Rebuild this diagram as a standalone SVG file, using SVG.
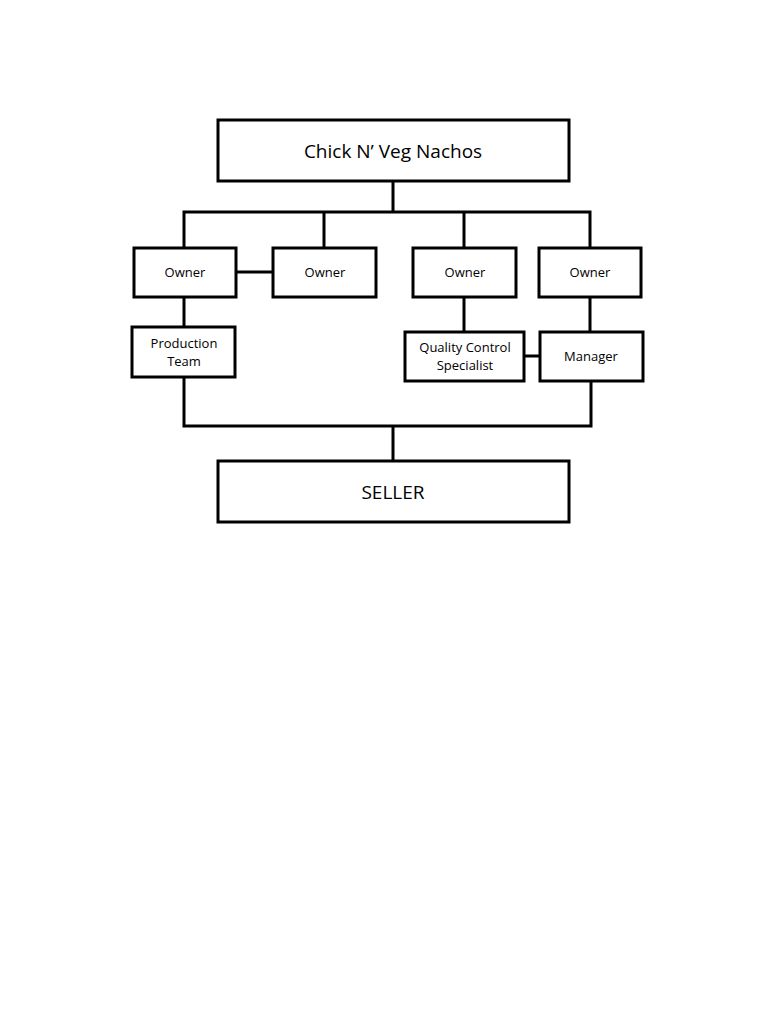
<svg xmlns="http://www.w3.org/2000/svg" width="768" height="1024" viewBox="0 0 768 1024">
<style>
rect{fill:#fff;stroke:#000;stroke-width:3}
.c path{fill:none;stroke:#000;stroke-width:3}
text{font-family:"Open Sans","Liberation Sans",sans-serif;text-anchor:middle;fill:#000}
.s{font-size:13px}
.b{font-size:19px}
</style>
<rect x="0" y="0" width="768" height="1024" style="stroke:none"/>
<g class="c">
<path d="M393 181V212M184 248V212H590V248M324 212V248M464 212V248M236 272H273M184 297V327M464 297V332M590 297V332M524 356H540M184 377V426H591V381M393 426V461"/>
</g>
<g id="top"><rect x="218" y="120" width="351" height="61"/><text class="b" x="393" y="158">Chick N’ Veg Nachos</text></g>
<g id="o1"><rect x="134" y="248" width="102" height="49"/><text class="s" x="185" y="277">Owner</text></g>
<g id="o2"><rect x="273" y="248" width="103" height="49"/><text class="s" x="325" y="277">Owner</text></g>
<g id="o3"><rect x="413" y="248" width="103" height="49"/><text class="s" x="465" y="277">Owner</text></g>
<g id="o4"><rect x="539" y="248" width="102" height="49"/><text class="s" x="590" y="277">Owner</text></g>
<g id="pt"><rect x="132" y="327" width="103" height="50"/><text class="s" x="184" y="348">Production</text><text class="s" x="184" y="366">Team</text></g>
<g id="qcs"><rect x="405" y="332" width="119" height="49"/><text class="s" x="465" y="352">Quality Control</text><text class="s" x="465" y="370">Specialist</text></g>
<g id="mgr"><rect x="540" y="332" width="103" height="49"/><text class="s" x="591" y="361">Manager</text></g>
<g id="seller"><rect x="218" y="461" width="351" height="61"/><text class="b" x="393" y="499">SELLER</text></g>
</svg>
